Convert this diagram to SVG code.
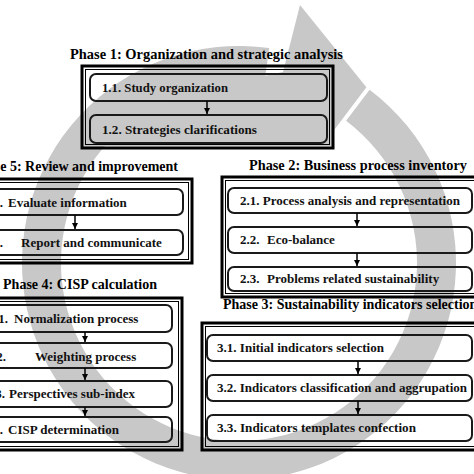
<svg xmlns="http://www.w3.org/2000/svg" width="474" height="474" viewBox="0 0 474 474">
<style>
.ring{fill:#c8c8c8;stroke:none}
.outer{fill:none;stroke:#000;stroke-width:3}
.outer2{fill:none;stroke:#000;stroke-width:1}
.box{fill:none;stroke:#1a1a1a;stroke-width:2}
.ttl{font-family:"Liberation Serif","Times New Roman",serif;font-weight:bold;font-size:14px;fill:#000}
.t{font-family:"Liberation Serif","Times New Roman",serif;font-weight:bold;font-size:13px;fill:#111}
.conn{stroke:#000;stroke-width:1.5;fill:none}
</style>
<defs>
<marker id="ah" viewBox="0 0 10 10" refX="10" refY="5" markerWidth="6" markerHeight="6" markerUnits="userSpaceOnUse" orient="auto">
<path d="M0,0 L10,5 L0,10 Z" fill="#000"/>
</marker>
</defs>
<rect width="474" height="474" fill="#fff"/>
<g id="cycle-arrow">
<path class="ring" d="M369.6,89.7 A217,217 0 1 1 269.2,48.1 L263.8,86.7 A178,178 0 1 0 346.1,120.8 Z"/>
<polygon class="ring" points="300,5 366.4,87.3 333,131.5 333,146 100,146 100,110 283,72"/>
</g>
<g id="phase1">
<text class="ttl" x="70" y="59" textLength="273" lengthAdjust="spacingAndGlyphs">Phase 1: Organization and strategic analysis</text>
<rect class="outer" x="82" y="66" width="251" height="82"/>
<rect class="outer2" x="85.5" y="69.5" width="244" height="75"/>
<g id="n11"><rect class="box" x="90" y="74" width="237" height="27" rx="6"/>
<text class="t" x="102" y="92" textLength="126" lengthAdjust="spacingAndGlyphs">1.1. Study organization</text></g>
<g id="n12"><rect class="box" x="90" y="115" width="237" height="28" rx="6"/>
<text class="t" x="102" y="134" textLength="155" lengthAdjust="spacingAndGlyphs">1.2. Strategies clarifications</text></g>
</g>
<g id="phase5">
<text class="ttl" x="178" y="171" text-anchor="end">Phase 5: Review and improvement</text>
<rect class="outer" x="-20" y="179" width="212" height="84"/>
<rect class="outer2" x="-16.5" y="182.5" width="205" height="77"/>
<g id="n51"><rect class="box" x="-10" y="189" width="193" height="26" rx="6"/>
<text class="t" x="3" y="207" text-anchor="end">5.1.</text><text class="t" x="8" y="207">Evaluate information</text></g>
<g id="n52"><rect class="box" x="-10" y="230" width="193" height="25" rx="6"/>
<text class="t" x="3" y="247" text-anchor="end">5.2.</text><text class="t" x="21" y="247">Report and communicate</text></g>
</g>
<g id="phase2">
<text class="ttl" x="249" y="170" textLength="218" lengthAdjust="spacingAndGlyphs">Phase 2: Business process inventory</text>
<rect class="outer" x="222" y="177" width="270" height="120"/>
<rect class="outer2" x="225.5" y="180.5" width="263" height="113"/>
<g id="n21"><rect class="box" x="228" y="188" width="244" height="25" rx="6"/>
<text class="t" x="240" y="205" textLength="220" lengthAdjust="spacingAndGlyphs">2.1. Process analysis and representation</text></g>
<g id="n22"><rect class="box" x="228" y="227" width="244" height="26" rx="6"/>
<text class="t" x="240" y="244">2.2.</text><text class="t" x="267" y="244">Eco-balance</text></g>
<g id="n23"><rect class="box" x="228" y="267" width="244" height="24" rx="6"/>
<text class="t" x="240" y="283">2.3.</text><text class="t" x="267" y="283">Problems related sustainability</text></g>
</g>
<g id="phase4">
<text class="ttl" x="3" y="289" textLength="154" lengthAdjust="spacingAndGlyphs">Phase 4: CISP calculation</text>
<rect class="outer" x="-20" y="298" width="202" height="152"/>
<rect class="outer2" x="-16.5" y="301.5" width="195" height="145"/>
<g id="n41"><rect class="box" x="-10" y="305" width="182" height="27" rx="6"/>
<text class="t" x="8" y="323" text-anchor="end">4.1.</text><text class="t" x="14" y="323">Normalization process</text></g>
<g id="n42"><rect class="box" x="-10" y="343" width="182" height="25" rx="6"/>
<text class="t" x="6" y="361" text-anchor="end">4.2.</text><text class="t" x="35" y="361">Weighting process</text></g>
<g id="n43"><rect class="box" x="-10" y="381" width="182" height="26" rx="6"/>
<text class="t" x="5" y="398" text-anchor="end">4.3.</text><text class="t" x="9" y="398">Perspectives sub-index</text></g>
<g id="n44"><rect class="box" x="-10" y="417" width="182" height="25" rx="6"/>
<text class="t" x="3" y="434" text-anchor="end">4.4.</text><text class="t" x="8" y="434">CISP determination</text></g>
</g>
<g id="phase3">
<text class="ttl" x="223" y="309">Phase 3: Sustainability indicators selection</text>
<rect class="outer" x="202" y="323" width="290" height="127"/>
<rect class="outer2" x="205.5" y="326.5" width="283" height="120"/>
<g id="n31"><rect class="box" x="207" y="335" width="265" height="26" rx="6"/>
<text class="t" x="217" y="352" textLength="167" lengthAdjust="spacingAndGlyphs">3.1. Initial indicators selection</text></g>
<g id="n32"><rect class="box" x="207" y="375" width="265" height="26" rx="6"/>
<text class="t" x="217" y="392" textLength="250" lengthAdjust="spacingAndGlyphs">3.2. Indicators classification and aggrupation</text></g>
<g id="n33"><rect class="box" x="207" y="415" width="265" height="26" rx="6"/>
<text class="t" x="217" y="432" textLength="199" lengthAdjust="spacingAndGlyphs">3.3. Indicators templates confection</text></g>
</g>
<g id="connectors">
<line class="conn" x1="207" y1="101" x2="207" y2="114" marker-end="url(#ah)"/>
<line class="conn" x1="75" y1="215" x2="75" y2="229" marker-end="url(#ah)"/>
<line class="conn" x1="357" y1="213" x2="357" y2="226" marker-end="url(#ah)"/>
<line class="conn" x1="357" y1="253" x2="357" y2="266" marker-end="url(#ah)"/>
<line class="conn" x1="85" y1="332" x2="85" y2="342" marker-end="url(#ah)"/>
<line class="conn" x1="85" y1="368" x2="85" y2="380" marker-end="url(#ah)"/>
<line class="conn" x1="85" y1="407" x2="85" y2="416" marker-end="url(#ah)"/>
<line class="conn" x1="358" y1="361" x2="358" y2="374" marker-end="url(#ah)"/>
<line class="conn" x1="358" y1="401" x2="358" y2="414" marker-end="url(#ah)"/>
</g>
</svg>
